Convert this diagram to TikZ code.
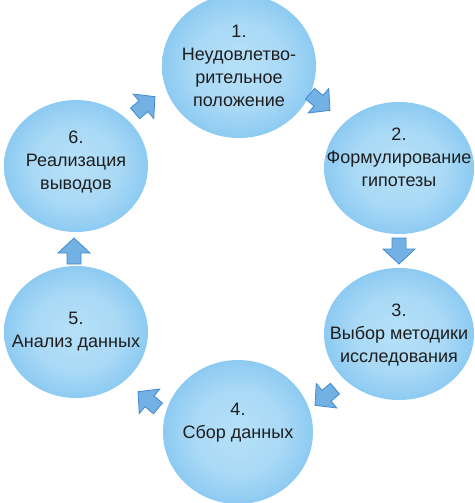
\documentclass[tikz,border=0pt]{standalone}
\usepackage{fontspec}
\setmainfont{Liberation Sans}
\definecolor{rimblue}{RGB}{68,155,222}
\definecolor{midblue}{RGB}{118,190,238}
\definecolor{coreblue}{RGB}{182,224,248}
\definecolor{arrowfill}{RGB}{115,176,228}
\definecolor{arrowline}{RGB}{66,138,205}
\definecolor{txt}{RGB}{30,30,30}
\pgfdeclareradialshading{ball}{\pgfpoint{0bp}{0bp}}{%
  color(0bp)=(coreblue); color(15bp)=(coreblue!80!midblue); color(33bp)=(midblue); color(45bp)=(rimblue); color(50bp)=(rimblue); color(100bp)=(rimblue)}
\tikzset{
  lbl/.style={text=txt, align=center, font=\fontsize{18}{23}\selectfont},
  pics/blockarrow/.style={code={
    \draw[draw=arrowline, fill=arrowfill, line width=0.8pt, line join=miter]
      (13,0) -- (-2,16) -- (-2,7) -- (-13,7) -- (-13,-7) -- (-2,-7) -- (-2,-16) -- cycle;
  }}
}
\begin{document}
\begin{tikzpicture}[x=1pt,y=-1pt]
\useasboundingbox (0,0) rectangle (474,503);
\clip (0,0) rectangle (474,503);
% circles
\shade[shading=ball] (239,66) ellipse [x radius=77, y radius=72];
\shade[shading=ball] (399,168) ellipse [x radius=75, y radius=66];
\shade[shading=ball] (399,334) ellipse [x radius=75, y radius=66];
\shade[shading=ball] (238,432) ellipse [x radius=75, y radius=72];
\shade[shading=ball] (76,332) ellipse [x radius=72, y radius=66];
\shade[shading=ball] (76,166) ellipse [x radius=72, y radius=66];
% labels
\node[lbl] (s1) at (239,66) {1.\\Неудовлетво-\\рительное\\положение};
\node[lbl] (s2) at (399,157) {2.\\Формулирование\\гипотезы};
\node[lbl] (s3) at (399,335) {3.\\Выбор методики\\исследования};
\node[lbl] (s4) at (238,423) {4.\\Сбор данных};
\node[lbl] (s5) at (76,332) {5.\\Анализ данных};
\node[lbl] (s6) at (76,162) {6.\\Реализация\\выводов};
% arrows
\pic[rotate=40] at (145,105) {blockarrow};
\pic[rotate=-40] at (320,102) {blockarrow};
\pic[rotate=-90] at (399,251) {blockarrow};
\pic[rotate=-140] at (325,397) {blockarrow};
\pic[rotate=140] at (148,400) {blockarrow};
\pic[rotate=90] at (74,251) {blockarrow};
\end{tikzpicture}
\end{document}
